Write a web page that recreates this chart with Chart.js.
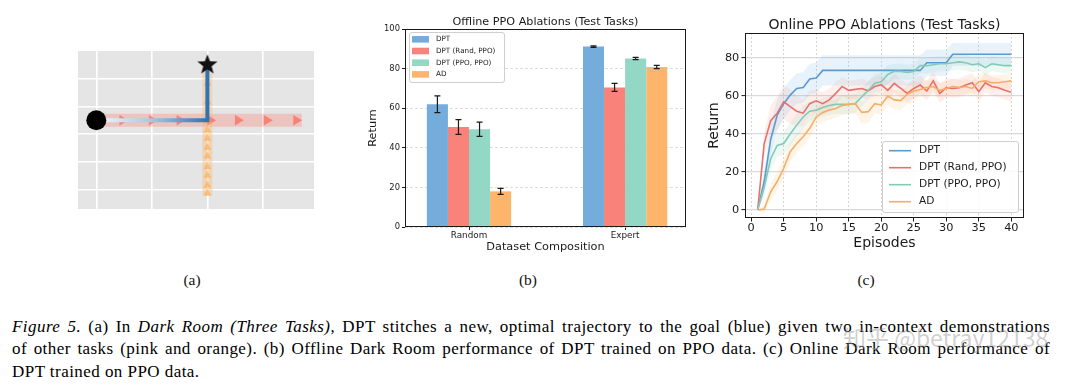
<!DOCTYPE html>
<html>
<head>
<meta charset="utf-8">
<title>Figure 5</title>
<script src="https://cdn.jsdelivr.net/npm/chart.js@4.4.1/dist/chart.umd.min.js"></script>
<style>
  html, body { margin: 0; padding: 0; background: #fff; }
  body { width: 1081px; height: 391px; position: relative; overflow: hidden; }
  canvas, .txt { position: absolute; }
  .sub { font-family: "Liberation Serif", serif; font-size: 15.5px; line-height: 20px; width: 60px; text-align: center; color: #111; }
  .cap { font-family: "Liberation Serif", serif; font-size: 17px; line-height: 22px; letter-spacing: 0.45px; left: 12px; width: 1038px; color: #000; }
  .just { text-align: justify; text-align-last: justify; }
  .mark { font-family: "Noto Sans CJK SC", sans-serif; font-size: 23px; line-height: 23px; color: rgba(150,150,150,0.45); white-space: nowrap; }
</style>
</head>
<body>
<canvas id="room" width="258" height="180" style="left:67px;top:40px"></canvas>
<canvas id="offline" width="350" height="250" style="left:345px;top:8px"></canvas>
<canvas id="online" width="335" height="250" style="left:700px;top:8px"></canvas>

<div class="txt sub" style="left:162px;top:270px">(a)</div>
<div class="txt sub" style="left:498px;top:270px">(b)</div>
<div class="txt sub" style="left:836px;top:270px">(c)</div>

<div class="txt cap just" style="top:316px"><i>Figure 5.</i> (a) In <i>Dark Room (Three Tasks)</i>, DPT stitches a new, optimal trajectory to the goal (blue) given two in-context demonstrations</div>
<div class="txt cap just" style="top:338px">of other tasks (pink and orange). (b) Offline Dark Room performance of DPT trained on PPO data. (c) Online Dark Room performance of</div>
<div class="txt cap" style="top:361px">DPT trained on PPO data.</div>
<div class="txt mark" style="left:843px;top:326px">知乎 @betray12138</div>

<script>
// (a) dark room trajectories, in grid units
const roomXTicks = [0, 1, 2, 3];
const roomYTicks = [0, 1, 2, 3, 4];
const pinkRow = 2.5;
const pinkSpan = [0, 3.7];
const pinkMarks = [0.47, 1.0, 1.5, 2.05, 2.55, 3.07, 3.6];
const orangeCol = 2;
const orangeSpan = [4.3, -0.22];
const orangeMarks = [3.83, 3.16, 2.47, 2.15, 1.84, 1.52, 1.2, 0.82, 0.51, 0.16, -0.13];
const bluePath = [[0, 2.5], [2, 2.5], [2, 4.53]];
const startCell = [0, 2.5];
const goalCell = [2, 4.53];

// (b) offline ablations
const offCats = ["Random", "Expert"];
const offNames = ["DPT", "DPT (Rand, PPO)", "DPT (PPO, PPO)", "AD"];
const offDpt = [62, 91.1];
const offDptRand = [50.5, 70.5];
const offDptPpo = [49.4, 85.1];
const offAd = [18, 80.8];
const offDptErr = [4.2, 0.4];
const offDptRandErr = [3.7, 2];
const offDptPpoErr = [3.6, 0.6];
const offAdErr = [1.5, 0.8];
const offTicks = [0, 20, 40, 60, 80, 100];

// (c) online ablations
const episodes = [1,2,3,4,5,6,7,8,9,10,11,12,13,14,15,16,17,18,19,20,21,22,23,24,25,26,27,28,29,30,31,32,33,34,35,36,37,38,39,40];
const onDpt = [0,15,37,50,56,60.5,64,64.5,69,69.5, 73.5,73.5,73.5,73.5,73.5,73.5,73.5,73.5,73.5,73.5, 73.5,73.5,73.5,73.5,73.5,73.5,77.5,77.5,77.5,77.5, 82,82,82,82,82,82,82,82,82,82];
const onDptRand = [0,35,47,51,57,54.4,52,51,56,57.5, 56,58,61.4,65,63,63.5,64,62.8,65,66, 63,66.7,64,61.4,64,65.8,62.6,68,61.4,64.4, 64,64.4,65.8,67,62.3,67,65,64.4,63,62];
const onDptPpo = [0,12,27,34,35,40,44.7,49,52,52.6, 54,55,55.6,55.6,55.6,56,59.6,63,66.7,67.5, 71.4,73,73,72.5,73,76,76,76.5,77,77, 77.5,78,77.5,76.5,77,75,77,76.5,76,76];
const onAd = [0,0.5,9.6,15,22,30.7,35,38.6,43,49, 51.4,52.6,53.5,55,55.6,56,51.4,51.8,56,55.3, 60,58,57.6,61,62.5,63.5,64.5,65,63,64, 65,64.5,65,64,67.5,68,67,67,67.5,68];
// half-widths of the shaded bands
const onDptBand = [0,6,8,8,8,8,8,8,8,8, 8,8,8,8,8,8,8,8,8,8, 8,8,8,8,8,8,7,7,7,7, 6,6,6,6,6,6,6,6,6,6];
const onDptRandBand = [0,6,8,9,9,9,8,7,7,6, 6,6,6,5,5,5,5,5,5,5, 5,5,5,5,5,5,5,5,5,5, 5,5,5,5,5,5,5,5,5,5];
const onDptPpoBand = [0,5,6,6,6,6,6,6,5,5, 5,5,5,5,5,5,5,5,5,5, 5,4,4,4,4,4,4,4,4,4, 4,4,4,4,4,4,4,4,4,4];
const onAdBand = [0,2,4,5,5,5,5,5,5,5, 5,5,5,5,5,5,6,6,5,5, 5,5,5,5,5,4,4,4,4,4, 4,4,4,4,4,4,4,4,4,4];
const epTicks = [0, 5, 10, 15, 20, 25, 30, 35, 40];
const onTicks = [0, 20, 40, 60, 80];

const FONT = '"DejaVu Sans", sans-serif';
const INK = '#1a1a1a';
const ticksAt = list => s => { s.ticks = list.map(v => ({ value: v })); };

// shared little plugins
function axTitle(text, size, gap) {
  return {
    id: 'axTitle',
    afterDraw(chart) {
      const { ctx, chartArea: a } = chart;
      ctx.save();
      ctx.font = size + 'px ' + FONT;
      ctx.fillStyle = INK;
      ctx.textAlign = 'center';
      ctx.textBaseline = 'middle';
      ctx.fillText(text, (a.left + a.right) / 2, a.top - gap);
      ctx.restore();
    }
  };
}
const frame = {
  id: 'frame',
  afterDatasetsDraw(chart) {
    const { ctx, chartArea: a } = chart;
    ctx.save();
    ctx.strokeStyle = INK;
    ctx.lineWidth = 1;
    ctx.strokeRect(a.left + 0.5, a.top + 0.5, a.width - 1, a.height - 1);
    ctx.restore();
  }
};
function legendBox(ctx, x, y, w, h) {
  ctx.beginPath();
  ctx.roundRect(x + 0.5, y + 0.5, w, h, 2.5);
  ctx.fillStyle = 'rgba(255,255,255,0.85)';
  ctx.fill();
  ctx.strokeStyle = '#cfcfcf';
  ctx.lineWidth = 1;
  ctx.stroke();
}

// ---------- (a) ----------
function starImage(size) {
  const c = document.createElement('canvas');
  c.width = c.height = size;
  const g = c.getContext('2d');
  g.fillStyle = '#111';
  g.beginPath();
  for (let k = 0; k < 10; k++) {
    const r = k % 2 ? size * 0.2 : size * 0.48;
    const ang = -Math.PI / 2 + k * Math.PI / 5;
    g.lineTo(size / 2 + r * Math.cos(ang), size * 0.54 + r * Math.sin(ang));
  }
  g.closePath();
  g.fill();
  return c;
}
const roomBg = {
  id: 'roomBg',
  beforeDraw(chart) {
    const { ctx, chartArea: a } = chart;
    ctx.fillStyle = '#e5e5e5';
    ctx.fillRect(a.left, a.top, a.width, a.height);
  }
};
const pt = (x, y) => ({ x, y });
const roomAxis = (min, max, list) => ({
  type: 'linear', min, max,
  afterBuildTicks: ticksAt(list),
  afterFit: s => { if (s.isHorizontal()) s.height = 0; else s.width = 0; },
  ticks: { display: false },
  grid: { color: '#ffffff', lineWidth: 1.6, drawTicks: false },
  border: { display: false }
});

new Chart(document.getElementById('room'), {
  type: 'scatter',
  data: {
    datasets: [
      { order: 0, data: [pt(goalCell[0], goalCell[1])], pointStyle: starImage(22), pointRadius: 10 },
      { order: 1, data: [pt(startCell[0], startCell[1])], pointRadius: 10, backgroundColor: '#000', borderWidth: 0 },
      { order: 2, data: bluePath.map(p => pt(p[0], p[1])), showLine: true, pointRadius: 0, borderWidth: 4,
        borderJoinStyle: 'miter',
        borderColor(c) {
          const chart = c.chart;
          if (!chart.chartArea) return '#2d74b4';
          const xs = chart.scales.x;
          const g = chart.ctx.createLinearGradient(xs.getPixelForValue(bluePath[0][0]), 0, xs.getPixelForValue(bluePath[1][0]), 0);
          g.addColorStop(0, '#f5f7fa');
          g.addColorStop(0.5, '#a9c6e0');
          g.addColorStop(1, '#2d74b4');
          return g;
        } },
      { order: 3, data: orangeMarks.map(v => pt(orangeCol, v)), pointStyle: 'triangle', pointRadius: 4.5,
        backgroundColor: 'rgba(253,170,80,0.65)', borderWidth: 0 },
      { order: 4, data: pinkMarks.map(v => pt(v, pinkRow)), pointStyle: 'triangle', rotation: 90, pointRadius: 6,
        backgroundColor: 'rgba(248,124,110,0.9)', borderWidth: 0 },
      { order: 5, data: orangeSpan.map(v => pt(orangeCol, v)), showLine: true, pointRadius: 0, borderWidth: 10,
        borderCapStyle: 'butt', borderColor: 'rgba(253,180,98,0.35)' },
      { order: 6, data: pinkSpan.map(v => pt(v, pinkRow)), showLine: true, pointRadius: 0, borderWidth: 13,
        borderCapStyle: 'butt', borderColor: 'rgba(250,128,114,0.33)' }
    ]
  },
  options: {
    responsive: false,
    animation: false,
    layout: { padding: 0 },
    plugins: { legend: { display: false }, tooltip: { enabled: false } },
    scales: { x: roomAxis(-0.33, 3.92, roomXTicks), y: roomAxis(-0.70, 5.0, roomYTicks) }
  },
  plugins: [roomBg]
});

// ---------- (b) ----------
const offColors = ['#74acdc', '#f9837a', '#93d8c5', '#fdb56c'];
const offMeans = [offDpt, offDptRand, offDptPpo, offAd];
const offErrs = [offDptErr, offDptRandErr, offDptPpoErr, offAdErr];

const errorBars = {
  id: 'errorBars',
  afterDatasetsDraw(chart) {
    const { ctx, scales: { y } } = chart;
    ctx.save();
    ctx.strokeStyle = INK;
    ctx.lineWidth = 1.2;
    offErrs.forEach((errs, i) => {
      chart.getDatasetMeta(i).data.forEach((bar, j) => {
        const v = offMeans[i][j];
        const top = y.getPixelForValue(v + errs[j]);
        const bot = y.getPixelForValue(v - errs[j]);
        ctx.beginPath();
        ctx.moveTo(bar.x, top); ctx.lineTo(bar.x, bot);
        ctx.moveTo(bar.x - 3, top); ctx.lineTo(bar.x + 3, top);
        ctx.moveTo(bar.x - 3, bot); ctx.lineTo(bar.x + 3, bot);
        ctx.stroke();
      });
    });
    ctx.restore();
  }
};
const offLegend = {
  id: 'offLegend',
  afterDraw(chart) {
    const { ctx, chartArea: a } = chart;
    const x0 = a.left + 4, y0 = a.top + 3;
    ctx.save();
    legendBox(ctx, x0, y0, 95, 50);
    ctx.font = '7.2px ' + FONT;
    ctx.textBaseline = 'middle';
    offNames.forEach((n, i) => {
      const cy = y0 + 7.3 + i * 11.7;
      ctx.fillStyle = offColors[i];
      ctx.fillRect(x0 + 3, cy - 3.3, 17, 6.6);
      ctx.fillStyle = INK;
      ctx.fillText(n, x0 + 27, cy);
    });
    ctx.restore();
  }
};

new Chart(document.getElementById('offline'), {
  type: 'bar',
  data: {
    datasets: offNames.map((n, i) => ({
      label: n,
      data: offCats.map((c, j) => ({ x: j, y: offMeans[i][j] })),
      backgroundColor: offColors[i],
      borderWidth: 0,
      categoryPercentage: 0.54,
      barPercentage: 1
    }))
  },
  options: {
    responsive: false,
    animation: false,
    layout: { padding: { left: 0, right: 9, top: 21, bottom: 0 } },
    plugins: { legend: { display: false }, tooltip: { enabled: false } },
    scales: {
      x: {
        type: 'linear', min: -0.41, max: 1.39, offset: false,
        afterBuildTicks: ticksAt([0, 1]),
        afterFit: s => { s.height = 31; },
        ticks: { callback: v => offCats[v], font: { family: FONT, size: 8.8 }, color: INK, padding: 0, maxRotation: 0, autoSkip: false },
        grid: { offset: false, drawOnChartArea: false, tickLength: 3, tickColor: INK, tickWidth: 1 },
        border: { display: false },
        title: { display: true, text: 'Dataset Composition', font: { family: FONT, size: 11.3 }, color: INK, padding: { top: 0, bottom: 3.9 } }
      },
      y: {
        min: 0, max: 100,
        afterBuildTicks: ticksAt(offTicks),
        afterFit: s => { s.width = 60; },
        ticks: { font: { family: FONT, size: 8.4 }, color: INK, padding: 2 },
        grid: { color: '#d4d4d4', lineWidth: 0.8, tickLength: 3, tickColor: INK, tickWidth: 1, tickBorderDash: [] },
        border: { display: false, dash: [3, 2] },
        title: { display: true, text: 'Return', font: { family: FONT, size: 11.3 }, color: INK, padding: { top: 21.2, bottom: 0 } }
      }
    }
  },
  plugins: [errorBars, frame, offLegend, axTitle('Offline PPO Ablations (Test Tasks)', 11.2, 7.3)]
});

// ---------- (c) ----------
const onSeries = [
  { name: 'DPT', mean: onDpt, band: onDptBand, line: '#5a9bcf', fill: 'rgba(120,178,225,0.17)' },
  { name: 'DPT (Rand, PPO)', mean: onDptRand, band: onDptRandBand, line: '#e8716a', fill: 'rgba(245,140,125,0.14)' },
  { name: 'DPT (PPO, PPO)', mean: onDptPpo, band: onDptPpoBand, line: '#83cbb6', fill: 'rgba(140,210,190,0.16)' },
  { name: 'AD', mean: onAd, band: onAdBand, line: '#f6ad66', fill: 'rgba(253,185,110,0.16)' }
];
const onDatasets = [];
onSeries.forEach(s => {
  const lowIdx = onDatasets.length;
  onDatasets.push({ order: 2, data: episodes.map((e, k) => ({ x: e, y: s.mean[k] - s.band[k] })),
    borderWidth: 0, pointRadius: 0, fill: false });
  onDatasets.push({ order: 2, data: episodes.map((e, k) => ({ x: e, y: s.mean[k] + s.band[k] })),
    borderWidth: 0, pointRadius: 0, fill: lowIdx, backgroundColor: s.fill });
});
onSeries.forEach((s, i) => {
  onDatasets.push({ order: 1 - i * 0.1, label: s.name, data: episodes.map((e, k) => ({ x: e, y: s.mean[k] })),
    borderColor: s.line, borderWidth: 1.6, pointRadius: 0, tension: 0, fill: false });
});

const onLegend = {
  id: 'onLegend',
  afterDraw(chart) {
    const { ctx, chartArea: a } = chart;
    const x0 = a.right - 142, y0 = a.bottom - 77;
    ctx.save();
    legendBox(ctx, x0, y0, 136, 71);
    ctx.font = '10.6px ' + FONT;
    ctx.textBaseline = 'middle';
    onSeries.forEach((s, i) => {
      const cy = y0 + 9.7 + i * 17;
      ctx.strokeStyle = s.line;
      ctx.lineWidth = 1.6;
      ctx.beginPath();
      ctx.moveTo(x0 + 7, cy); ctx.lineTo(x0 + 29, cy);
      ctx.stroke();
      ctx.fillStyle = INK;
      ctx.fillText(s.name, x0 + 37, cy);
    });
    ctx.restore();
  }
};

new Chart(document.getElementById('online'), {
  type: 'line',
  data: { datasets: onDatasets },
  options: {
    responsive: false,
    animation: false,
    layout: { padding: { left: 0, right: 11, top: 25, bottom: 0 } },
    plugins: { legend: { display: false }, tooltip: { enabled: false } },
    scales: {
      x: {
        type: 'linear', min: -0.95, max: 41.95,
        afterBuildTicks: ticksAt(epTicks),
        afterFit: s => { s.height = 40; },
        ticks: { font: { family: FONT, size: 11.3 }, color: INK, padding: 0, maxRotation: 0, autoSkip: false },
        grid: { color: '#d6d6d6', lineWidth: 1, tickLength: 3.5, tickColor: INK, tickWidth: 1, tickBorderDash: [] },
        border: { display: false, dash: [2, 2] },
        title: { display: true, text: 'Episodes', font: { family: FONT, size: 14 }, color: INK, padding: { top: 0, bottom: 6.3 } }
      },
      y: {
        min: -4.2, max: 93.2,
        afterBuildTicks: ticksAt(onTicks),
        afterFit: s => { s.width = 45; },
        ticks: { font: { family: FONT, size: 11.3 }, color: INK, padding: 2.2 },
        grid: { color: '#d9d9d9', lineWidth: 1.2, tickLength: 3.5, tickColor: INK, tickWidth: 1 },
        border: { display: false },
        title: { display: true, text: 'Return', font: { family: FONT, size: 14 }, color: INK, padding: { top: 5.6, bottom: 0 } }
      }
    }
  },
  plugins: [frame, onLegend, axTitle('Online PPO Ablations (Test Tasks)', 14, 7.7)]
});
</script>
</body>
</html>
